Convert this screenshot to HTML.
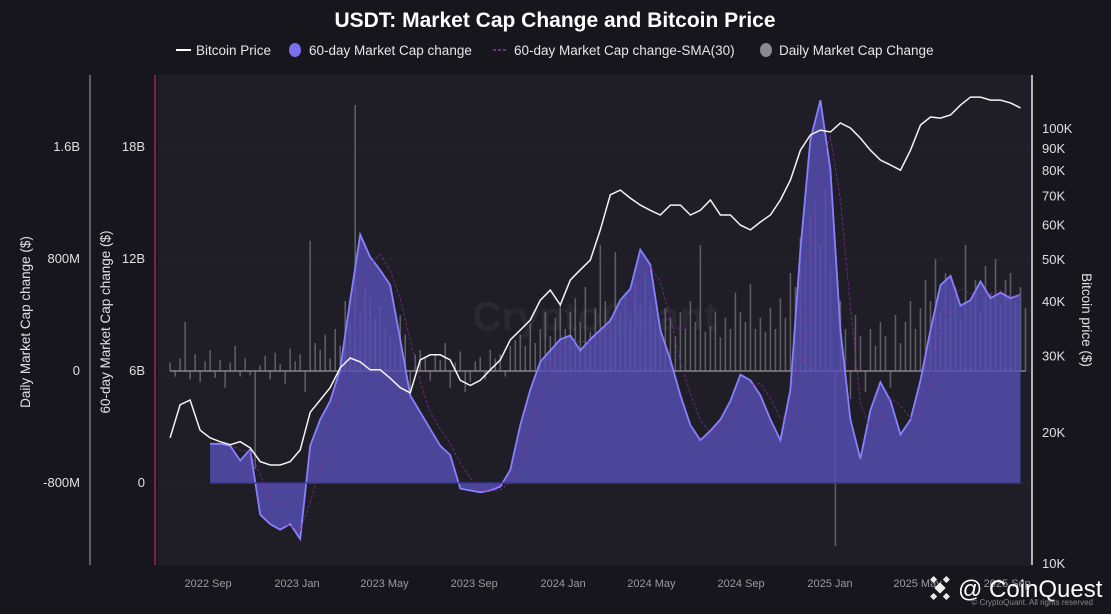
<!DOCTYPE html>
<html><head><meta charset="utf-8"><style>
html,body{margin:0;padding:0;background:#17161c;width:1111px;height:614px;overflow:hidden}
svg{display:block;font-family:"Liberation Sans",sans-serif}
</style></head><body>
<svg id="chart" width="1111" height="614" viewBox="0 0 1111 614">
<rect x="0" y="0" width="1111" height="614" fill="#17161c"/>
<text x="555" y="27" text-anchor="middle" fill="#fff" font-size="21" font-weight="bold">USDT: Market Cap Change and Bitcoin Price</text>
<g font-size="13.5" fill="#e6e6e6">
 <g><line x1="176" y1="50" x2="191" y2="50" stroke="#fff" stroke-width="2"/><text x="196" y="55">Bitcoin Price</text></g>
 <g><ellipse cx="295" cy="50" rx="6" ry="7" fill="#7a70ee"/><text x="309" y="55">60-day Market Cap change</text></g>
 <g><line x1="493" y1="50" x2="508" y2="50" stroke="#8a3aa8" stroke-width="1.5" stroke-dasharray="3,2"/><text x="514" y="55">60-day Market Cap change-SMA(30)</text></g>
 <g><ellipse cx="766" cy="50" rx="6" ry="7" fill="#8a8a8e"/><text x="779" y="55">Daily Market Cap Change</text></g>
</g>
<rect x="158" y="75" width="873" height="491" fill="#1f1e26"/>
<text x="595" y="330" text-anchor="middle" fill="#2a2933" font-size="40" font-weight="bold">CryptoQuant</text>
<g id="grid"></g>
<g id="bars"></g>
<g id="area"></g>
<g id="btc"></g>
<line x1="90" y1="75" x2="90" y2="565" stroke="#77767d" stroke-width="1.5"/>
<line x1="155" y1="75" x2="155" y2="565" stroke="#9a2a4e" stroke-width="1.5"/>
<line x1="1032" y1="75" x2="1032" y2="565" stroke="#e8e8e8" stroke-width="1.5"/>
<g id="axes" font-size="13" fill="#e0e0e0"></g>
<text transform="translate(30,322) rotate(-90)" text-anchor="middle" fill="#e0e0e0" font-size="13.5">Daily Market Cap change ($)</text>
<text transform="translate(110,322) rotate(-90)" text-anchor="middle" fill="#e0e0e0" font-size="13.5">60-day Market Cap change ($)</text>
<text transform="translate(1082,320) rotate(90)" text-anchor="middle" fill="#e0e0e0" font-size="13.5">Bitcoin price ($)</text>
<g>
 <g transform="translate(940,588) rotate(45)" fill="#eee"><rect x="-4" y="-4" width="8" height="8"/><rect x="-13" y="-4" width="5" height="5"/><rect x="8" y="-1" width="5" height="5"/><rect x="-4" y="-13" width="5" height="5"/><rect x="-1" y="8" width="5" height="5"/></g>
 <text x="958" y="597" fill="#fff" font-size="24">@ CoinQuest</text>
 <text x="1093" y="605" text-anchor="end" fill="#888" font-size="8">© CryptoQuant. All rights reserved</text>
</g>
</svg>
<script>
const NS="http://www.w3.org/2000/svg";
// data
const startDay=10; // days since 2022-07-01
const sampleStep=13.72; // days per sample
const btcPrice=[19.4,23.1,23.7,20.2,19.4,19.0,18.7,19.0,18.4,17.1,16.8,16.8,17.1,18.2,22.2,23.7,25.3,28.1,29.6,29.0,27.8,27.8,26.6,25.3,24.6,29.3,30.1,30.1,29.3,26.3,25.6,26.3,27.8,29.3,32.6,34.3,36.2,40.2,42.4,39.2,44.7,47.2,49.7,58.3,70.2,72.0,69.0,66.5,64.7,63.1,66.5,66.5,63.1,64.7,68.3,63.1,63.1,59.8,58.3,60.8,63.1,68.3,75.9,88.9,96.4,98.9,97.9,102.7,100.0,94.8,88.9,84.4,82.2,80.0,88.9,101.6,106.0,105.4,107.1,112.9,117.8,117.8,115.9,115.9,114.2,111.2];
const change60=[null,null,null,null,2.1,2.1,2.0,1.2,1.8,-1.7,-2.2,-2.5,-2.2,-3.0,2.0,3.4,4.4,6.1,9.8,13.3,12.1,11.4,10.6,7.7,4.7,3.8,2.9,2.0,1.5,-0.3,-0.4,-0.5,-0.4,-0.2,0.7,3.1,5.0,6.5,7.1,7.7,7.9,7.1,7.7,8.2,8.7,9.8,10.4,12.5,11.7,8.2,6.6,4.7,3.1,2.3,2.8,3.4,4.4,5.8,5.5,4.7,3.4,2.3,5.0,12.5,18.4,20.5,16.8,8.2,3.4,1.3,3.9,5.4,4.4,2.6,3.4,5.5,8.2,10.6,11.1,9.5,9.8,10.8,9.9,10.2,9.9,10.1];
const dailyStep=6.86; // days per daily bar sample
const dailyChange=[60,-40,90,350,-60,120,-80,70,150,-50,80,-120,60,180,-40,90,-30,-700,40,110,-60,130,50,-90,160,70,120,-150,930,200,150,260,90,300,180,500,340,1900,420,600,520,380,460,300,250,180,400,260,-200,120,150,90,-70,120,80,200,-120,60,140,-150,-80,70,100,-60,150,90,120,-40,180,220,260,180,340,200,300,420,250,380,480,300,420,520,350,600,280,450,900,500,380,850,420,560,380,620,480,700,500,360,300,450,380,250,420,300,500,350,900,280,320,420,240,380,300,560,420,350,620,300,380,280,450,300,520,380,700,600,950,800,1100,1200,900,1300,750,-1250,500,300,-200,400,250,-150,300,180,350,250,-120,400,200,350,500,300,450,650,500,800,420,700,550,600,380,900,500,650,420,750,550,800,480,650,700,500,600,450];
const xTickLabels=["2022 Sep","2023 Jan","2023 May","2023 Sep","2024 Jan","2024 May","2024 Sep","2025 Jan","2025 May","2025 Sep"];
const xTickDays=[62,184,304,427,549,670,793,915,1035,1158];
const dailyTicks=[1600,800,0,-800];
const dailyTickLabels=["1.6B","800M","0","-800M"];
const change60Ticks=[18,12,6,0];
const change60TickLabels=["18B","12B","6B","0"];
const priceTicks=[100,90,80,70,60,50,40,30,20,10];
const priceTickLabels=["100K","90K","80K","70K","60K","50K","40K","30K","20K","10K"];
// scales
const xScale=d=>297+(d-184)*0.7292;
const yDaily=v=>371-v*(112/800);
const y60=v=>483-v*(112/6);
const yPrice=p=>563-Math.log10(p/10)*435;
function mk(tag,attrs,parent){const e=document.createElementNS(NS,tag);for(const k in attrs)e.setAttribute(k,attrs[k]);parent.appendChild(e);return e;}
const grid=document.getElementById('grid');
dailyTicks.forEach(v=>{const l=mk('line',{x1:158,x2:1031,y1:yDaily(v),y2:yDaily(v),stroke:'#26252e','stroke-width':1},grid);

});
// daily bars
const bars=document.getElementById('bars');
dailyChange.forEach((v,i)=>{const x=xScale(startDay+i*dailyStep);const y0=yDaily(0),y1=yDaily(v);
const r=mk('rect',{x:x-0.8,width:1.6,y:Math.min(y0,y1),height:Math.max(0.5,Math.abs(y1-y0)),fill:'#9a9a9e','fill-opacity':0.5},bars);

});
mk('line',{x1:xScale(startDay),x2:xScale(startDay+(dailyChange.length-1)*dailyStep),y1:yDaily(0),y2:yDaily(0),stroke:'#8a8a8e','stroke-width':2,'stroke-opacity':0.7},bars);
// 60-day area
const area=document.getElementById('area');
const pts=[];change60.forEach((v,i)=>{if(v!==null)pts.push([xScale(startDay+i*sampleStep),y60(v)]);});
let d='M'+pts[0][0]+','+y60(0);pts.forEach(p=>d+=' L'+p[0].toFixed(1)+','+p[1].toFixed(1));d+=' L'+pts[pts.length-1][0]+','+y60(0)+' Z';
const ap=mk('path',{d:d,fill:'#5650b8','fill-opacity':0.8},area);


const lp=mk('path',{d:'M'+pts.map(p=>p[0].toFixed(1)+','+p[1].toFixed(1)).join(' L'),fill:'none',stroke:'#8a80ff','stroke-width':1.8},area);


const bl=mk('line',{x1:pts[0][0],x2:pts[pts.length-1][0],y1:y60(0),y2:y60(0),stroke:'#3c3890','stroke-width':1.5},area);


// SMA
const sma=[];change60.forEach((v,i)=>{const w=change60.slice(Math.max(0,i-2),i+1).filter(x=>x!==null);if(v!==null&&w.length===3)sma.push([xScale(startDay+i*sampleStep),y60(w.reduce((a,b)=>a+b)/3)]);});
const sp=mk('path',{d:'M'+sma.map(p=>p[0].toFixed(1)+','+p[1].toFixed(1)).join(' L'),fill:'none',stroke:'#7a2a92','stroke-width':1,'stroke-dasharray':'3,2','stroke-opacity':0.85},area);


// btc line
const btc=document.getElementById('btc');
const bp=mk('path',{d:'M'+btcPrice.map((p,i)=>xScale(startDay+i*sampleStep).toFixed(1)+','+yPrice(p).toFixed(1)).join(' L'),fill:'none',stroke:'#f4f4f4','stroke-width':1.5},btc);


// axes labels
const axes=document.getElementById('axes');
dailyTicks.forEach((v,i)=>{const t=mk('text',{x:80,y:yDaily(v)+4,'text-anchor':'end'},axes);t.textContent=dailyTickLabels[i];

});
change60Ticks.forEach((v,i)=>{const t=mk('text',{x:145,y:y60(v)+4,'text-anchor':'end'},axes);t.textContent=change60TickLabels[i];

});
priceTicks.forEach((v,i)=>{const t=mk('text',{x:1042,y:yPrice(v)+5,'text-anchor':'start'},axes);t.textContent=priceTickLabels[i];

});
xTickDays.forEach((dd,i)=>{const x=xScale(dd);if(x>1030)return;const t=mk('text',{x:x,y:587,'text-anchor':'middle','font-size':11,fill:'#9a9aa0'},axes);t.textContent=xTickLabels[i];

});
</script>
</body></html>
